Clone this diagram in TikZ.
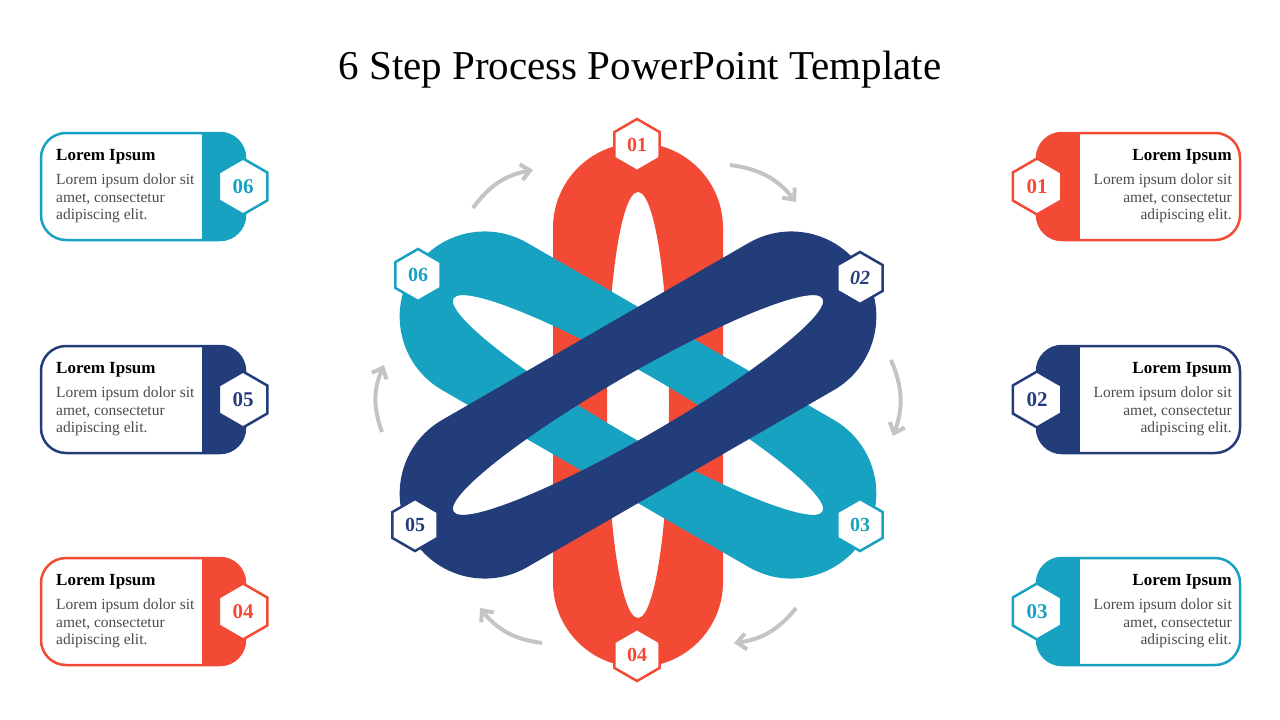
\documentclass[tikz,border=0pt]{standalone}
\usepackage{fontspec}
\setmainfont{Liberation Serif}
\usetikzlibrary{shapes.geometric,arrows.meta}
\definecolor{cred}{HTML}{F24A35}
\definecolor{cnavy}{HTML}{223D7A}
\definecolor{cteal}{HTML}{17A2C2}
\definecolor{cgray}{HTML}{C4C4C4}
\tikzset{
 hexa/.style={regular polygon,regular polygon sides=6,shape border rotate=30,draw=#1,fill=white,line width=2.5pt,minimum size=52pt,inner sep=0pt,text=#1,font=\fontsize{20}{20}\selectfont\bfseries},
 hexb/.style={hexa=#1,minimum size=56pt,font=\fontsize{21}{21}\selectfont\bfseries},
 cyc/.style={cgray,line width=4pt,-{Straight Barb[length=9pt,width=16pt]}},
 ttl/.style={font=\fontsize{17}{17}\selectfont\bfseries,text=black},
 bdy/.style={font=\fontsize{15.5}{17.5}\selectfont,text=black!70,align=left},
 bdyr/.style={font=\fontsize{15.5}{17.5}\selectfont,text=black!70,align=right},
}
\newcommand{\band}[2]{%
 \begin{scope}[shift={(638,-405)},rotate=#1]
 \fill[#2,even odd rule] (-85,-262) [rounded corners=84.9] rectangle (85,262) [sharp corners] (0,0) ellipse [x radius=31,y radius=213];
 \end{scope}}
\newcommand{\leftbox}[3]{%
 \begin{scope}
 \clip[rounded corners=25] (41,-#2) rectangle (245,-#2-107);
 \fill[#1] (202,-#2) rectangle (246,-#2-107);
 \end{scope}
 \draw[#1,line width=2.5pt,rounded corners=25] (41,-#2) rectangle (245,-#2-107);
 \node[hexb=#1] (h#3) at (243,-#2-53.5) {#3};
 \node[ttl,anchor=west,inner sep=0pt] (t#3) at (56,-#2-24) {Lorem Ipsum};
 \node[bdy,anchor=north west,inner sep=0pt] (b#3) at (56,-#2-41) {Lorem ipsum dolor sit\\amet, consectetur\\adipiscing elit.};}
\newcommand{\rightbox}[3]{%
 \begin{scope}
 \clip[rounded corners=25] (1037,-#2) rectangle (1240,-#2-107);
 \fill[#1] (1036,-#2) rectangle (1080,-#2-107);
 \end{scope}
 \draw[#1,line width=2.5pt,rounded corners=25] (1037,-#2) rectangle (1240,-#2-107);
 \node[hexb=#1] (r#3) at (1037,-#2-53.5) {#3};
 \node[ttl,anchor=east,inner sep=0pt] (rt#3) at (1232,-#2-24) {Lorem Ipsum};
 \node[bdyr,anchor=north east,inner sep=0pt] (rb#3) at (1232,-#2-41) {Lorem ipsum dolor sit\\amet, consectetur\\adipiscing elit.};}
\begin{document}
\begin{tikzpicture}[x=1pt,y=1pt]
\useasboundingbox[fill=white] (0,0) rectangle (1280,-720);
\node[font=\fontsize{41}{41}\selectfont] (title) at (640,-70) {6 Step Process PowerPoint Template};
\band{0}{cred}
\band{60}{cteal}
\band{-60}{cnavy}
\node[hexa=cred] (n1) at (637,-145) {01};
\node[hexa=cnavy] (n2) at (860,-278) {\itshape 02};
\node[hexa=cteal] (n3) at (860,-525) {03};
\node[hexa=cred] (n4) at (637,-655) {04};
\node[hexa=cnavy] (n5) at (415,-525) {05};
\node[hexa=cteal] (n6) at (418,-275) {06};
\coordinate (a1s) at (473,-208); \coordinate (a1e) at (533,-170);
\coordinate (a2s) at (730,-165); \coordinate (a2e) at (796,-202);
\coordinate (a3s) at (891,-360); \coordinate (a3e) at (893,-436);
\coordinate (a4s) at (796,-608); \coordinate (a4e) at (734,-643);
\coordinate (a5s) at (542,-643); \coordinate (a5e) at (480,-608);
\coordinate (a6s) at (382,-432); \coordinate (a6e) at (384,-365);
\foreach \i in {1,...,6}{\draw[cyc] (a\i s) to[bend left=22] (a\i e);}
\leftbox{cteal}{133}{06}
\leftbox{cnavy}{346}{05}
\leftbox{cred}{558}{04}
\rightbox{cred}{133}{01}
\rightbox{cnavy}{346}{02}
\rightbox{cteal}{558}{03}
\end{tikzpicture}
\end{document}
